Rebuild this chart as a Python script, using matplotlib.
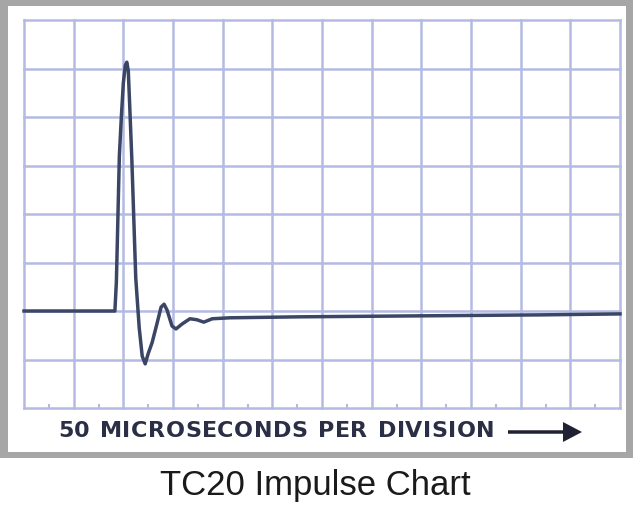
import numpy as np
import matplotlib
matplotlib.use("Agg")
import matplotlib.pyplot as plt
from matplotlib.patches import Rectangle, FancyArrow
from matplotlib.transforms import IdentityTransform

W, H = 640, 516

# impulse trace, in grid divisions (x: 0-12, y: 0-8)
trace_x = [0.0, 1.83, 1.86, 1.89, 1.92, 1.96, 2.00, 2.04, 2.07, 2.10, 2.13,
           2.17, 2.21, 2.25, 2.32, 2.38, 2.44, 2.50, 2.58, 2.68, 2.76, 2.82,
           2.88, 2.98, 3.06, 3.18, 3.34, 3.48, 3.62, 3.79, 4.15, 5.56, 7.97,
           10.39, 12.0]
trace_y = [2.0, 2.0, 2.6, 3.9, 5.2, 6.0, 6.7, 7.07, 7.13, 6.95, 6.19,
           5.16, 3.92, 2.68, 1.65, 1.07, 0.91, 1.12, 1.35, 1.75, 2.08, 2.14,
           2.02, 1.69, 1.63, 1.73, 1.84, 1.82, 1.77, 1.84, 1.86, 1.88, 1.90,
           1.92, 1.94]

n_xdiv = 12
n_ydiv = 8
axis_label = "50 MICROSECONDS PER DIVISION"
caption = "TC20 Impulse Chart"

grid_col = "#b4bae2"
trace_col = "#3b4564"
text_col = "#2b2f45"

fig = plt.figure(figsize=(W / 100, H / 100), dpi=100)
fig.patch.set_facecolor("white")

# grey frame around the chart panel
fig.add_artist(Rectangle((0, (H - 458) / H), 633 / W, 458 / H,
                         transform=fig.transFigure, facecolor="#a6a6a6",
                         edgecolor="none", zorder=0))
fig.add_artist(Rectangle((8 / W, (H - 452) / H), 618 / W, 446 / H,
                         transform=fig.transFigure, facecolor="white",
                         edgecolor="none", zorder=0.5))

ax = fig.add_axes([24 / W, (H - 408) / H, 596 / W, 388 / H])
ax.set_zorder(2)
ax.set_xlim(0, n_xdiv)
ax.set_ylim(0, n_ydiv)
ax.patch.set_alpha(0)
for s in ax.spines.values():
    s.set_visible(False)
ax.set_xticks([])
ax.set_yticks([])

for i in range(n_xdiv + 1):
    ax.axvline(i, color=grid_col, lw=1.8, clip_on=False, zorder=1)
for j in range(n_ydiv + 1):
    ax.axhline(j, color=grid_col, lw=1.8, clip_on=False, zorder=1)
# small ticks on the bottom line at half divisions
for i in range(n_xdiv):
    ax.plot([i + 0.5, i + 0.5], [0, 0.06], color=grid_col, lw=1.5, zorder=1)

ax.plot(trace_x, trace_y, color=trace_col, lw=2.5, solid_joinstyle="round",
        zorder=3, clip_on=False)

# letter-spaced axis label, placed char by char
fig.canvas.draw()
r = fig.canvas.get_renderer()
fs = 16
chars = []
for ch in axis_label:
    t = fig.text(0, 0, ch, fontsize=fs, fontweight="bold", color=text_col,
                 family="DejaVu Sans", va="center", ha="left", zorder=3)
    w = t.get_window_extent(r).width if ch != " " else 0
    chars.append((t, w))
x0, x1 = 58, 495
nspace = axis_label.count(" ")
glyph_w = sum(w for _, w in chars)
space_w = 9
track = (x1 - x0 - glyph_w - nspace * space_w) / (len(axis_label) - 1)
x = x0
for (t, w), ch in zip(chars, axis_label):
    t.set_position((x / W, 1 - 431 / H))
    x += (space_w if ch == " " else w) + track

fig.add_artist(FancyArrow(508, H - 432, 74, 0, width=3.5, head_width=20,
                          head_length=19, length_includes_head=True,
                          transform=IdentityTransform(), color="#1f2233",
                          lw=0, zorder=3))

fig.text(315 / W, 1 - 485 / H, caption, fontsize=25, family="Liberation Sans",
         color="#1a1a1a", ha="center", va="center")

fig.savefig("out.png", dpi=100)
